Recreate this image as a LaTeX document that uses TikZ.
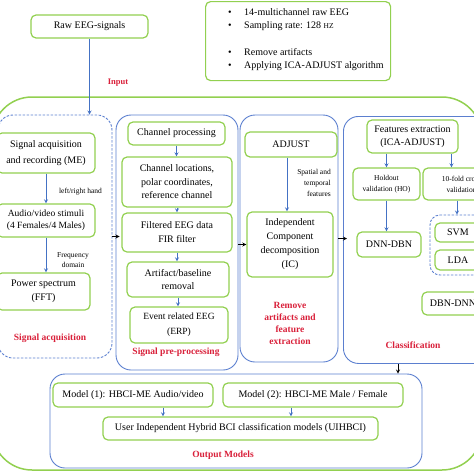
\documentclass[tikz,border=0pt]{standalone}
\usepackage{fontspec}
\setmainfont{Liberation Serif}
\definecolor{boxgreen}{HTML}{92D050}
\definecolor{stageblue}{HTML}{5B7FCF}
\definecolor{arrowblue}{HTML}{4472C4}
\definecolor{titlered}{HTML}{D9203A}
\begin{document}
\begin{tikzpicture}[x=1pt,y=-1pt,>=stealth,
  box/.style={draw=boxgreen,line width=1.2pt,rounded corners=5pt,align=center,inner sep=1pt,font=\fontsize{10}{14}\selectfont},
  stage/.style={draw=stageblue,line width=0.9pt,rounded corners=15pt,inner sep=0pt},
  small/.style={align=center,inner sep=0pt,font=\fontsize{7.5}{10}\selectfont},
  title/.style={text=titlered,align=center,inner sep=0pt,font=\fontsize{9.5}{12}\selectfont\bfseries},
  item/.style={anchor=base west,inner sep=0pt,font=\fontsize{10}{12}\selectfont},
  arr/.style={->,arrowblue,line width=0.8pt},
  blk/.style={->,black,line width=0.8pt}]
\clip (0,0) rectangle (474,474);

% outer frame
\draw[boxgreen,line width=1.5pt,rounded corners=40pt] (-8,97) rectangle (482,470);

% input
\node[box,minimum width=117,minimum height=23] (raw) at (89.5,26.5) {Raw EEG-signals};
\node[title,font=\fontsize{8.5}{10}\selectfont\bfseries] (inlbl) at (118,83) {Input};

\node[box,anchor=north west,minimum width=185,minimum height=79] (spec) at (205,1) {};
\node[item] (it1) at (228,15.5) {\textbullet\hspace{12.5pt}14-multichannel raw EEG};
\node[item] (it2) at (228,28.5) {\textbullet\hspace{12.5pt}Sampling rate: 128 {\fontsize{7.5}{9}\selectfont HZ}};
\node[item] (it3) at (228,55.5) {\textbullet\hspace{12.5pt}Remove artifacts};
\node[item] (it4) at (228,68.5) {\textbullet\hspace{12.5pt}Applying ICA-ADJUST algorithm};

% signal acquisition
\node[stage,dash pattern=on 2.5pt off 1.5pt,minimum width=114,minimum height=243] (acq) at (55,236.5) {};
\node[box,minimum width=98,minimum height=40,font=\fontsize{10}{16}\selectfont] (sar) at (46,153) {Signal acquisition\\and recording (ME)};
\node[box,minimum width=98,minimum height=33,font=\fontsize{9.5}{12}\selectfont] (avs) at (46,220.5) {Audio/video stimuli\\(4 Females/4 Males)};
\node[box,minimum width=93,minimum height=37] (pow) at (43.5,291.5) {Power spectrum\\(FFT)};
\node[small] (lrh) at (80.5,192) {left/right hand};
\node[small] (freq) at (73,260) {Frequency\\domain};
\node[title] (acqlbl) at (50,338) {Signal acquisition};

\draw[arr] (sar.south) -- (avs.north);
\draw[arr] (avs.south) -- (avs.south |- pow.north);

% signal pre-processing
\node[stage,minimum width=122,minimum height=255] (pre) at (177,242.5) {};
\node[box,minimum width=97,minimum height=23] (chp) at (176.5,133.5) {Channel processing};
\node[box,minimum width=110,minimum height=50,font=\fontsize{10}{13.5}\selectfont] (cloc) at (177,182) {Channel locations,\\polar coordinates,\\reference channel};
\node[box,minimum width=110,minimum height=39] (fir) at (177,232.5) {Filtered EEG data\\FIR filter};
\node[box,minimum width=102,minimum height=35,font=\fontsize{10}{13}\selectfont] (abr) at (178,279.5) {Artifact/baseline\\removal};
\node[box,minimum width=98,minimum height=36,font=\fontsize{9.5}{15}\selectfont] (erp) at (179,325) {Event related EEG\\(ERP)};
\node[title] (prelbl) at (176,352) {Signal pre-processing};

\draw[arr] (chp.south) -- (chp.south |- cloc.north);
\draw[arr] (cloc.south) -- (fir.north);
\draw[arr] (fir.south) -- (fir.south |- abr.north);
\draw[arr] (abr.south) -- (abr.south |- erp.north);

% remove artifacts
\node[stage,minimum width=98,minimum height=247] (rem) at (289,238.5) {};
\node[box,minimum width=92,minimum height=25] (adj) at (291,144.5) {ADJUST};
\node[box,minimum width=86,minimum height=65] (ic) at (290,244.5) {Independent\\Component\\decomposition\\(IC)};
\node[small,align=right,anchor=east,font=\fontsize{7.5}{11}\selectfont] (spt) at (331,183) {Spatial and\\temporal\\features};
\node[title] (remlbl) at (290,323) {Remove\\artifacts and\\feature\\extraction};

\draw[arr] ([xshift=-4]adj.south) -- ([xshift=-4]adj.south |- ic.north);

% classification
\node[stage,anchor=north west,minimum width=180,minimum height=247] (cls) at (343,116) {};
\node[box,minimum width=91,minimum height=33,font=\fontsize{10}{13}\selectfont] (fex) at (412.5,136.5) {Features extraction\\(ICA-ADJUST)};
\node[box,minimum width=67,minimum height=32,font=\fontsize{7.5}{11}\selectfont] (ho) at (386.5,184) {Holdout\\validation (HO)};
\node[box,minimum width=77,minimum height=32,font=\fontsize{7.5}{11}\selectfont] (cv) at (461.5,184) {10-fold cross\\validation};
\node[box,minimum width=64,minimum height=25] (dnn) at (389,244.5) {DNN-DBN};
\node[stage,dash pattern=on 2.5pt off 1.5pt,rounded corners=10pt,minimum width=54,minimum height=60] (ml) at (457,245) {};
\node[box,minimum width=46,minimum height=19] (svm) at (458,232.5) {SVM};
\node[box,minimum width=46,minimum height=20] (lda) at (458,260) {LDA};
\node[box,minimum width=62,minimum height=23] (dbn) at (453,303.5) {DBN-DNN};
\node[title] (clslbl) at (413,345) {Classification};

\draw[arr] (ho.north |- fex.south) -- (ho.north);
\draw[arr] ([xshift=-10]cv.north |- fex.south) -- ([xshift=-10]cv.north);
\draw[arr] (ml.north |- cv.south) -- (ml.north);
\draw[arr] (ho.south) -- (ho.south |- dnn.north);

% output models
\node[stage,minimum width=372,minimum height=94] (outm) at (236,421) {};
\node[box,minimum width=160,minimum height=24] (m1) at (133,395) {Model (1): HBCI-ME Audio/video};
\node[box,minimum width=180,minimum height=24] (m2) at (313,395) {Model (2): HBCI-ME Male / Female};
\node[box,minimum width=275,minimum height=23] (uih) at (240.5,428.5) {User Independent Hybrid BCI classification models (UIHBCI)};
\node[title] (outlbl) at (223,455) {Output Models};

\draw[arr] ([xshift=30]m1.south) -- ([xshift=30]m1.south |- uih.north);
\draw[arr] ([xshift=-22]m2.south) -- ([xshift=-22]m2.south |- uih.north);

% links between stages
\draw[arr] (raw.south) -- (raw.south |- acq.north);
\draw[blk] (acq.east) -- ([xshift=4]acq.east -| pre.west);
\draw[blk] (ic.west -| pre.east) -- (ic.west);
\draw[blk] (rem.east) -- ([xshift=4]rem.east -| cls.west);
\draw[blk] ([xshift=55]cls.south west) -- ([xshift=55]cls.south west |- outm.north);
\end{tikzpicture}
\end{document}
